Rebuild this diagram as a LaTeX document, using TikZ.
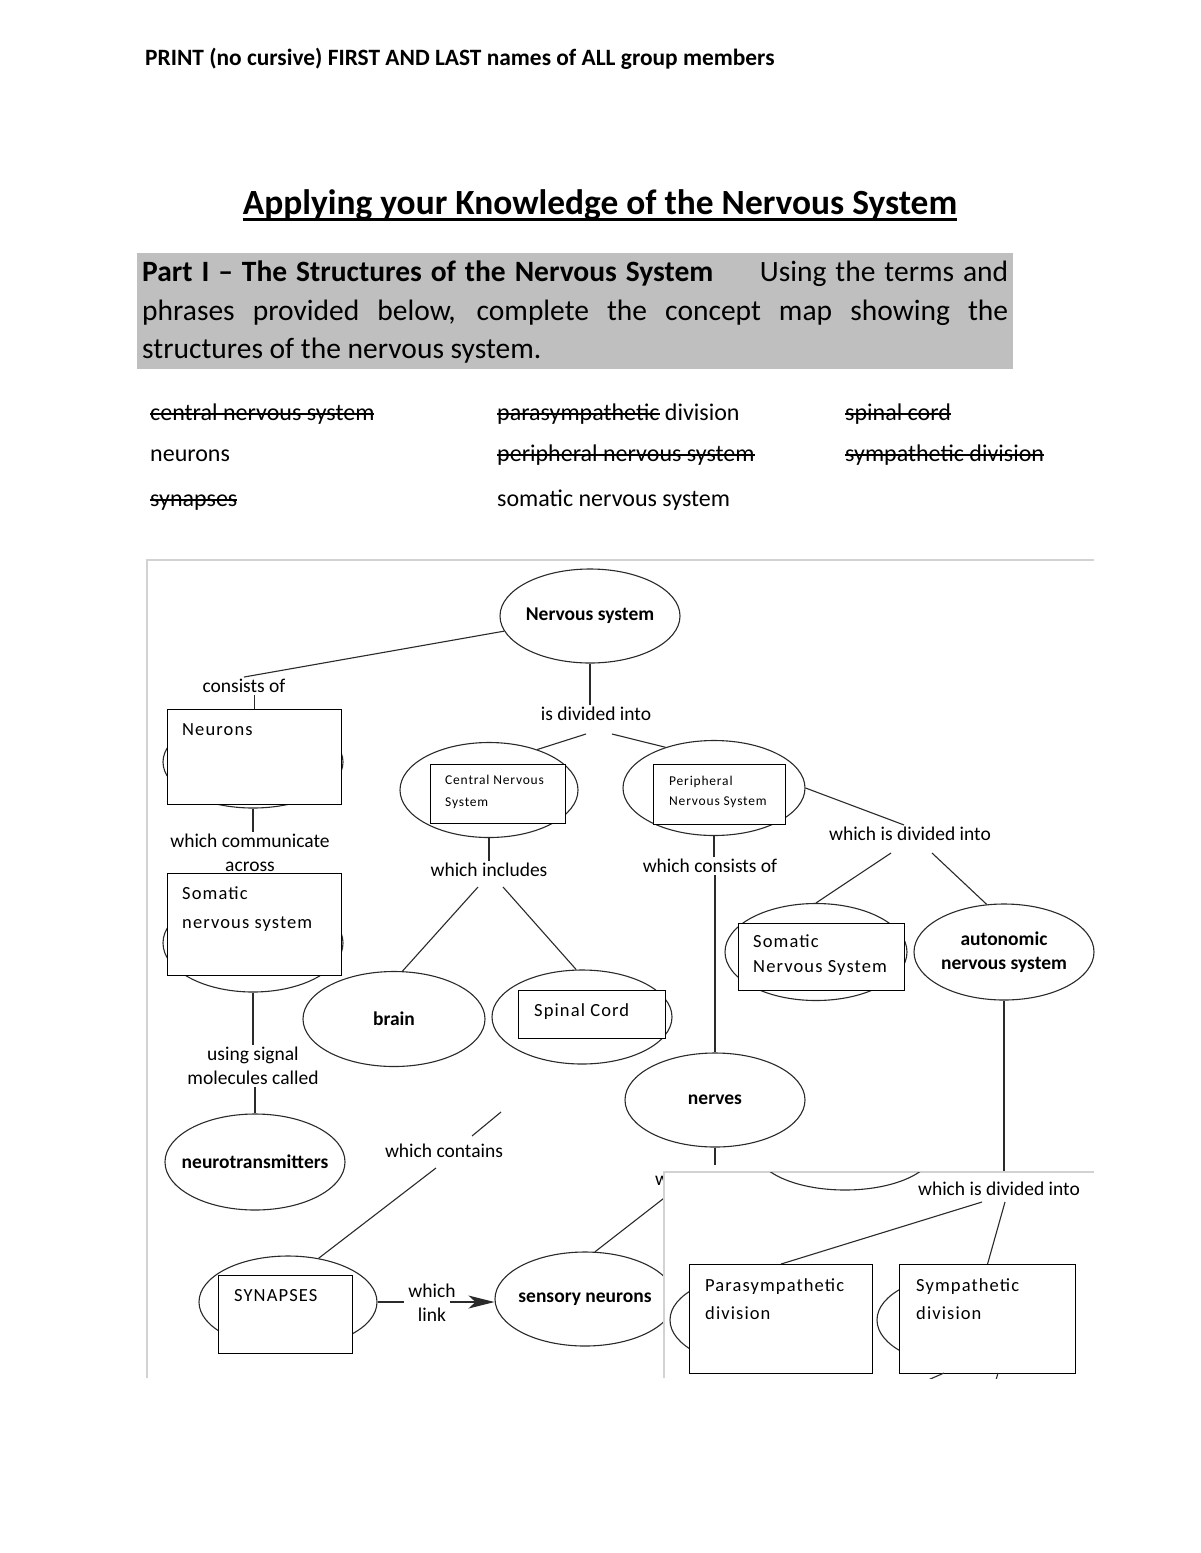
\documentclass[tikz,border=0pt]{standalone}
\usepackage{fontspec}
\setmainfont{Carlito}
\newfontfamily\boxfam[LetterSpace=6]{Carlito}
\usetikzlibrary{shapes.geometric,arrows.meta}
\definecolor{linec}{HTML}{2A2A2A}
\definecolor{framec}{HTML}{D2D2D2}
\definecolor{graybox}{HTML}{BFBFBF}
\newcommand\mystrike[1]{\setbox0=\hbox{#1}\rlap{\rule[0.22em]{\wd0}{2.2pt}}\box0\relax}
\newcommand\mapbold{\fontsize{19.5}{24}\selectfont\bfseries}
\newcommand\maplabel{\fontsize{19.5}{24}\selectfont}
\newcommand\boxtext{\boxfam\fontsize{18.5}{22}\selectfont}
\newcommand\boxsmall{\boxfam\fontsize{13.5}{16}\selectfont}
\newcommand\wordfont{\fontsize{24}{28}\selectfont}
\begin{document}
\begin{tikzpicture}[x=1pt,y=-1pt,
  ell/.style={ellipse, draw=linec, line width=1.1pt, inner xsep=-40pt, inner ysep=0pt, font=\mapbold, align=center},
  mbox/.style={draw=black, line width=1.1pt, fill=white, inner sep=0pt, anchor=north west},
  btxt/.style={font=\boxtext, anchor=mid west, inner sep=0pt},
  bsmall/.style={font=\boxsmall, anchor=mid west, inner sep=0pt},
  lbl/.style={font=\maplabel, align=center, inner sep=2pt},
  conn/.style={draw=linec, line width=1.1pt},
  wl/.style={font=\wordfont, anchor=mid west, inner sep=0pt}]
\useasboundingbox (0,0) rectangle (1200,1553);
\fill[white] (0,0) rectangle (1200,1553);

% header
\node[anchor=mid west, inner sep=0pt, font=\fontsize{23.4}{28}\selectfont\bfseries] (hdr) at (145,63) {PRINT (no cursive) FIRST AND LAST names of ALL group members};
\node[inner sep=0pt, font=\fontsize{35.4}{42}\selectfont\bfseries] (title) at (600,205) {Applying your Knowledge of the Nervous System};
\draw[line width=2.2pt] ([yshift=-5pt]title.base west) -- ([yshift=-5pt]title.base east);

% gray instruction box
\node[fill=graybox, anchor=north west, minimum width=876pt, minimum height=116pt, inner sep=0pt] (gbox) at (137,253) {};
\node[anchor=north west, text width=866pt, align=justify, inner sep=0pt, font=\fontsize{29.5}{38.5}\selectfont] (ptext) at (142,261)
 {\textbf{Part I -- The Structures of the Nervous System}\quad\; Using the terms and\linebreak phrases provided below, complete the concept map showing the\linebreak structures of the nervous system.};

% word list
\node[wl] (w1) at (150,418) {\mystrike{central nervous system}};
\node[wl] (w2) at (497,418) {\mystrike{parasympathetic} division};
\node[wl] (w3) at (845,418) {\mystrike{spinal cord}};
\node[wl] (w4) at (150,459) {neurons};
\node[wl] (w5) at (497,459) {\mystrike{peripheral nervous system}};
\node[wl] (w6) at (845,459) {\mystrike{sympathetic division}};
\node[wl] (w7) at (150,504) {\mystrike{synapses}};
\node[wl] (w8) at (497,504) {somatic nervous system};

% frame
\draw[framec, line width=1.2pt] (1094,560) -- (147,560) -- (147,1378);

% ---- concept map ----
\node[ell, minimum width=180pt, minimum height=94pt] (ns) at (590,616) {Nervous system};
\node[lbl] (consists) at (244,686) {consists of};
\draw[conn] (ns) -- (consists.north);

\node[ell, minimum width=180pt, minimum height=92pt] (neur) at (253,762) {};
\node[mbox, minimum width=174pt, minimum height=95pt] (nbox) at (167,709) {};
\node[btxt] (nboxt) at (182,733) {Neurons};
\draw[conn] (nbox.north) -- (nbox.north |- consists.south);

\node[lbl] (comm) at (250,853) {which communicate\\across};
\draw[conn] (neur.south) -- (neur.south |- comm.north);

\node[ell, minimum width=180pt, minimum height=98pt] (sell) at (253,943) {};
\node[mbox, minimum width=174pt, minimum height=102pt] (sbox) at (167,873) {};
\node[btxt] (sboxt1) at (182,897) {Somatic};
\node[btxt] (sboxt2) at (182,926) {nervous system};

\node[lbl] (sig) at (253,1066) {using signal\\molecules called};
\draw[conn] (sell.south) -- (sell.south |- sig.north);
\node[ell, minimum width=180pt, minimum height=96pt] (nt) at (255,1162) {neurotransmitters};
\draw[conn] (nt.north) -- (nt.north |- sig.south);

\node[lbl] (div) at (596,714) {is divided into};
\draw[conn] (ns.south) -- (ns.south |- div.north);

\node[ell, minimum width=178pt, minimum height=95pt] (cns) at (489,790) {};
\node[mbox, minimum width=135pt, minimum height=59pt] (cbox) at (430,764) {};
\node[bsmall] (cboxt1) at (445,782) {Central Nervous};
\node[bsmall] (cboxt2) at (445,804) {System};

\node[ell, minimum width=182pt, minimum height=95pt] (pns) at (714,788) {};
\node[mbox, minimum width=132pt, minimum height=60pt] (pbox) at (653,764) {};
\node[bsmall] (pboxt1) at (669,783) {Peripheral};
\node[bsmall] (pboxt2) at (669,803) {Nervous System};

\coordinate (dl) at (586,734);
\coordinate (dr) at (612,734);
\draw[conn] (dl) -- (cns.40);
\draw[conn] (dr) -- (pns.140);

\node[lbl] (inc) at (489,870) {which includes};
\draw[conn] (cns.south) -- (cns.south |- inc.north);
\node[lbl] (cons2) at (710,866) {which consists of};
\draw[conn] (pns.south) -- (pns.south |- cons2.north);

\node[ell, minimum width=182pt, minimum height=95pt] (brain) at (394,1019) {brain};
\node[ell, minimum width=180pt, minimum height=94pt] (sc) at (582,1017) {};
\node[mbox, minimum width=147pt, minimum height=48pt] (scbox) at (518,990) {};
\node[btxt] (scboxt) at (534,1014) {Spinal Cord};
\coordinate (il) at (478,887);
\coordinate (ir) at (503,887);
\draw[conn] (il) -- (brain.80);
\draw[conn] (ir) -- (sc.97);

\node[ell, minimum width=180pt, minimum height=94pt] (nerves) at (715,1100) {nerves};
\draw[conn] (nerves.north |- cons2.south) -- (nerves.north);
\coordinate (nvb) at (715,1165);
\draw[conn] (nerves.south) -- (nvb);

\node[lbl] (wdi) at (910,834) {which is divided into};
\draw[conn] (pns.east) -- ([xshift=-6pt]wdi.north);
\coordinate (wl1) at (891,853);
\coordinate (wr1) at (932,853);
\node[ell, minimum width=182pt, minimum height=97pt] (somr) at (816,952) {};
\node[mbox, minimum width=166pt, minimum height=67pt] (somrbox) at (738,923) {};
\node[btxt] (somrt1) at (753,945) {Somatic};
\node[btxt] (somrt2) at (753,970) {Nervous System};
\node[ell, minimum width=180pt, minimum height=96pt] (aut) at (1004,952) {autonomic\\nervous system};
\draw[conn] (wl1) -- (somr.north);
\draw[conn] (wr1) -- (aut.110);
\coordinate (autend) at (1004,1176);
\draw[conn] (aut.south) -- (autend);

\coordinate (ca) at (501,1112);
\coordinate (cb) at (472,1136);
\draw[conn] (ca) -- (cb);
\node[lbl] (contains) at (444,1151) {which contains};
\node[ell, minimum width=178pt, minimum height=92pt] (syn) at (288,1302) {};
\node[mbox, minimum width=134pt, minimum height=78pt] (synbox) at (218,1275) {};
\node[btxt] (synt) at (234,1299) {SYNAPSES};
\coordinate (cc) at (436,1168);
\draw[conn] (cc) -- (syn.55);

\node[ell, minimum width=180pt, minimum height=94pt] (sens) at (585,1299) {sensory neurons};
\node[lbl, inner xsep=4pt] (link) at (432,1303) {which\\link};
\draw[conn] (syn.east) -- (link.west |- syn.east);
\draw[conn, -{Stealth[length=26pt, width=13pt, inset=7pt]}] ([xshift=-10pt]link.east |- syn.east) -- (sens.west |- syn.east);
\coordinate (swend) at (668,1195);
\draw[conn] (sens.78) -- (swend);
\node[lbl, anchor=west, inner sep=0pt] (wpart) at (655,1181) {w};

% ---- overlay panel ----
\fill[white] (664,1172) rectangle (1100,1385);
\draw[framec, line width=1.2pt] (1094,1172) -- (664,1172) -- (664,1378);
\begin{scope}
\clip (664,1172) rectangle (1094,1378);
\node[ell, minimum width=178pt, minimum height=80pt] (hidell) at (845,1150) {};
\node[lbl] (wdi2) at (999,1189) {which is divided into};
\coordinate (pl) at (982,1202);
\coordinate (pr) at (1005,1202);
\node[ell, minimum width=180pt, minimum height=92pt] (parell) at (760,1320) {};
\node[ell, minimum width=180pt, minimum height=92pt] (symell) at (967,1320) {};
\node[mbox, minimum width=183pt, minimum height=109pt] (parbox) at (689,1264) {};
\node[mbox, minimum width=176pt, minimum height=109pt] (symbox) at (899,1264) {};
\draw[conn] (pl) -- (827,1264 -| parbox.north);
\draw[conn] (pr) -- (973,1264 -| symbox.north);
\node[btxt] (part1) at (705,1289) {Parasympathetic};
\node[btxt] (part2) at (705,1317) {division};
\node[btxt] (symt1) at (916,1289) {Sympathetic};
\node[btxt] (symt2) at (916,1317) {division};
\coordinate (pb1) at (928,1380);
\coordinate (pb2) at (944,1373);
\coordinate (sb1) at (996,1380);
\coordinate (sb2) at (998,1373);
\draw[conn] (pb1) -- (pb2);
\draw[conn] (sb1) -- (sb2);
\end{scope}
\end{tikzpicture}
\end{document}
